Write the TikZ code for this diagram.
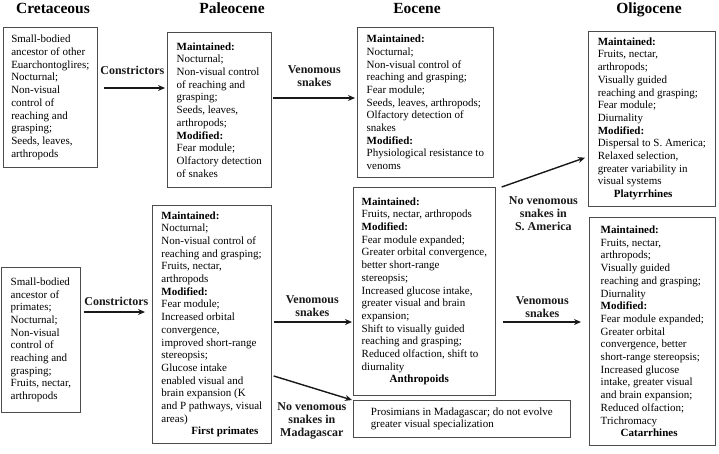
\documentclass[tikz,border=0pt]{standalone}
\usepackage{fontspec}
\setmainfont{Liberation Serif}
\usetikzlibrary{positioning, arrows.meta}
\tikzset{
    period/.style={anchor=base, font=\fontsize{15.5}{18}\selectfont\bfseries},
    stagebox/.style={rectangle, draw=black!70, line width=0.7pt, anchor=north west, align=left, inner sep=0pt, font=\fontsize{11}{12.7}\selectfont},
    snakelabel/.style={align=center, font=\fontsize{12}{13}\selectfont\bfseries},
    arrow/.style={-{Stealth[length=7pt, width=6pt]}, line width=1.4pt, color=black!90},
}

\begin{document}
\begin{tikzpicture}[x=1pt, y=-1pt]
    \useasboundingbox (0,0) rectangle (719,453);

    % Periodi
    \node[period] (cret) at (53,13.5) {Cretaceous};
    \node[period] (paleo) at (232,13.5) {Paleocene};
    \node[period] (eoce) at (417,13.5) {Eocene};
    \node[period] (oligo) at (649,13.5) {Oligocene};

    % Ramo superiore
    \node[stagebox, minimum width=94pt, minimum height=140pt] (cretA) at (3,27) {Small-bodied\\ancestor of other\\Euarchontoglires;\\Nocturnal;\\Non-visual\\control of\\reaching and\\grasping;\\Seeds, leaves,\\arthropods};
    \node[stagebox, minimum width=104pt, minimum height=155pt] (paleoA) at (167,32) {\textbf{Maintained:}\\Nocturnal;\\Non-visual control\\of reaching and\\grasping;\\Seeds, leaves,\\arthropods;\\\textbf{Modified:}\\Fear module;\\Olfactory detection\\of snakes};
    \node[stagebox, minimum width=136pt, minimum height=150pt] (eoceA) at (357,27) {\textbf{Maintained:}\\Nocturnal;\\Non-visual control of\\reaching and grasping;\\Fear module;\\Seeds, leaves, arthropods;\\Olfactory detection of\\snakes\\\textbf{Modified:}\\Physiological resistance to\\venoms};
    \node[stagebox, minimum width=127pt, minimum height=175pt] (platy) at (588,31) {\textbf{Maintained:}\\Fruits, nectar,\\arthropods;\\Visually guided\\reaching and grasping;\\Fear module;\\Diurnality\\\textbf{Modified:}\\Dispersal to S. America;\\Relaxed selection,\\greater variability in\\visual systems\\\hspace*{16pt}\textbf{Platyrrhines}};

    % Ramo inferiore
    \node[stagebox, minimum width=79pt, minimum height=145pt] (cretB) at (1,267) {Small-bodied\\ancestor of\\primates;\\Nocturnal;\\Non-visual\\control of\\reaching and\\grasping;\\Fruits, nectar,\\arthropods};
    \node[stagebox, minimum width=119pt, minimum height=238pt] (firstprim) at (152,205) {\textbf{Maintained:}\\Nocturnal;\\Non-visual control of\\reaching and grasping;\\Fruits, nectar,\\arthropods\\\textbf{Modified:}\\Fear module;\\Increased orbital\\convergence,\\improved short-range\\stereopsis;\\Glucose intake\\enabled visual and\\brain expansion (K\\and P pathways, visual\\areas)\\\hspace*{30pt}\textbf{First primates}};
    \node[stagebox, minimum width=142pt, minimum height=208pt] (anthro) at (353,187) {\textbf{Maintained:}\\Fruits, nectar, arthropods\\\textbf{Modified:}\\Fear module expanded;\\Greater orbital convergence,\\better short-range\\stereopsis;\\Increased glucose intake,\\greater visual and brain\\expansion;\\Shift to visually guided\\reaching and grasping;\\Reduced olfaction, shift to\\diurnality\\\hspace*{28pt}\textbf{Anthropoids}};
    \node[stagebox, minimum width=217pt, minimum height=37pt] (prosim) at (353,400) {Prosimians in Madagascar; do not evolve\\greater visual specialization};
    \node[stagebox, minimum width=126pt, minimum height=228pt] (catar) at (589,217) {\textbf{Maintained:}\\Fruits, nectar,\\arthropods;\\Visually guided\\reaching and grasping;\\Diurnality\\\textbf{Modified:}\\Fear module expanded;\\Greater orbital\\convergence, better\\short-range stereopsis;\\Increased glucose\\intake, greater visual\\and brain expansion;\\Reduced olfaction;\\Trichromacy\\\hspace*{20pt}\textbf{Catarrhines}};

    % Frecce
    \coordinate (yConA) at (0,88);
    \coordinate (yVenA) at (0,98);
    \coordinate (yConB) at (0,312);
    \coordinate (yVenB) at (0,322);
    \draw[arrow, shorten <=6pt, shorten >=2pt] (yConA -| cretA.east) -- node[snakelabel, above=9.7pt] {Constrictors} (yConA -| paleoA.west);
    \draw[arrow, shorten <=1pt, shorten >=2pt] (yVenA -| paleoA.east) -- node[snakelabel, above=7.4pt] {Venomous\\snakes} (yVenA -| eoceA.west);
    \draw[arrow] ([xshift=6pt]anthro.north east) -- node[snakelabel, below=20pt] {No venomous\\snakes in\\S. America} ([xshift=-3pt, yshift=49pt]platy.south west);
    \draw[arrow, shorten <=3pt, shorten >=7pt] (yConB -| cretB.east) -- node[snakelabel, above=2pt] {Constrictors} (yConB -| firstprim.west);
    \draw[arrow, shorten <=2pt, shorten >=1pt] (yVenB -| firstprim.east) -- node[snakelabel, above=1.4pt] {Venomous\\snakes} (yVenB -| anthro.west);
    \draw[arrow, shorten <=2pt] ([yshift=-51pt]firstprim.east) -- node[snakelabel, below=10.5pt] {No venomous\\snakes in\\Madagascar} ([xshift=-1pt]prosim.north west);
    \draw[arrow, shorten <=7pt, shorten >=8pt] (yVenB -| anthro.east) -- node[snakelabel, above=0.7pt] {Venomous\\snakes} (yVenB -| catar.west);
\end{tikzpicture}
\end{document}
